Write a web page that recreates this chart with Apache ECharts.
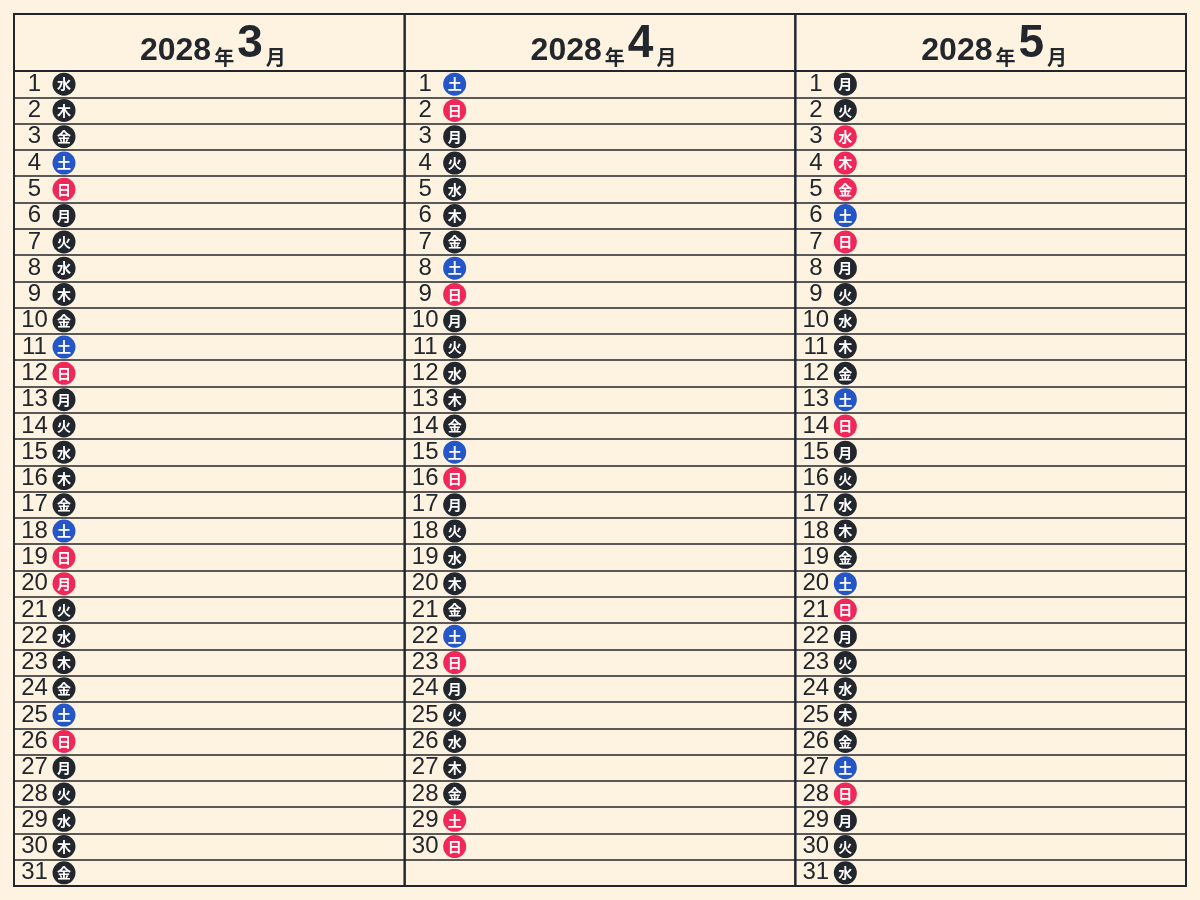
<!DOCTYPE html>
<html><head><meta charset="utf-8">
<script src="https://cdn.jsdelivr.net/npm/echarts@6/dist/echarts.min.js"></script>
<style>html,body{margin:0;padding:0;background:#fef3e0}#c{width:1200px;height:900px}</style>
</head><body><div id="c"></div>
<script>
const year = 2028;
const months = [3, 4, 5];
const daysInMonth = [31, 30, 31];
const weekdayNames = ['日','月','火','水','木','金','土'];
const holidays = { 3: [20], 4: [29], 5: [3, 4, 5] };

const DARK = '#22262d', BLUE = '#2456c8', RED = '#f0285a', BG = '#fef3e0';
const L = 14, R = 1186, T = 14, HB = 71, B = 886;
const colW = (R - L) / months.length;
const FONT = '"Liberation Sans", "Noto Sans CJK JP", sans-serif';

const grids = [], xAxes = [], yAxes = [], series = [], titles = [];
months.forEach((m, i) => {
  const left = L + i * colW;
  grids.push({left: left, top: T, width: colW, height: HB - T, show: true, borderColor: DARK, borderWidth: 2, backgroundColor: 'transparent'});
  xAxes.push({gridIndex: 2*i, type: 'value', show: false, min: 0, max: 1});
  yAxes.push({gridIndex: 2*i, type: 'value', show: false, min: 0, max: 1});
  grids.push({left: left, top: HB, width: colW, height: B - HB, show: true, borderColor: DARK, borderWidth: 2, backgroundColor: 'transparent'});
  xAxes.push({gridIndex: 2*i+1, type: 'value', show: false, min: 0, max: colW});
  yAxes.push({gridIndex: 2*i+1, type: 'value', min: 0, max: 31, interval: 1, inverse: true,
    axisLine: {show: false}, axisTick: {show: false}, axisLabel: {show: false},
    splitLine: {show: true, lineStyle: {color: DARK, width: 1.5}}});
  titles.push({
    text: '{y|' + year + '}{k|年}{m|' + m + '}{k|月}',
    left: left + colW / 2, top: 16, textAlign: 'center',
    textStyle: {rich: {
      y: {fontSize: 32, fontFamily: FONT, color: DARK, fontWeight: 'bold', verticalAlign: 'bottom', lineHeight: 40},
      k: {fontSize: 20, fontFamily: '"Noto Sans CJK JP"', color: DARK, fontWeight: 'bold', verticalAlign: 'bottom', lineHeight: 36, padding: [0, 3, 0, 3]},
      m: {fontSize: 46, fontFamily: FONT, color: DARK, fontWeight: 'bold', verticalAlign: 'bottom', lineHeight: 46}
    }}
  });
  const numData = [], wdData = [];
  for (let d = 1; d <= daysInMonth[i]; d++) {
    const wd = new Date(year, m - 1, d).getDay();
    const isHol = (holidays[m] || []).includes(d);
    const col = (wd === 0 || isHol) ? RED : (wd === 6 ? BLUE : DARK);
    numData.push({value: [20.5, d - 0.5], label: {formatter: String(d)}});
    wdData.push({value: [50, d - 0.5], itemStyle: {color: col, opacity: 1}, label: {formatter: weekdayNames[wd]}});
  }
  series.push({type: 'scatter', xAxisIndex: 2*i+1, yAxisIndex: 2*i+1, symbolSize: 1, silent: true,
    itemStyle: {opacity: 0},
    data: numData, label: {show: true, position: 'inside', align: 'center', verticalAlign: 'middle', fontSize: 24, fontFamily: FONT, color: DARK, opacity: 1}});
  series.push({type: 'scatter', xAxisIndex: 2*i+1, yAxisIndex: 2*i+1, symbolSize: 23, silent: true,
    itemStyle: {opacity: 1},
    data: wdData, label: {show: true, position: 'inside', fontSize: 14, fontWeight: 'bold', fontFamily: '"Noto Sans CJK JP"', color: '#fff'}});
});

const chart = echarts.init(document.getElementById('c'));
chart.setOption({backgroundColor: BG, animation: false, title: titles, grid: grids, xAxis: xAxes, yAxis: yAxes, series: series});
</script></body></html>
